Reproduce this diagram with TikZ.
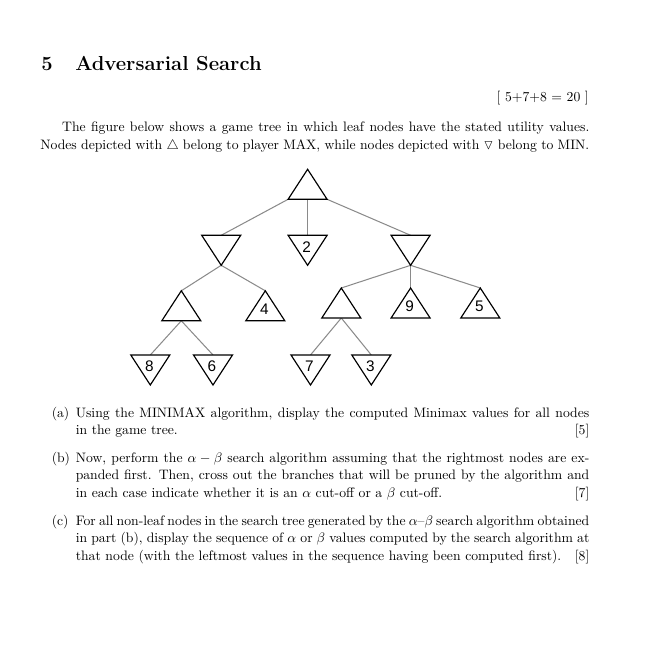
\documentclass[tikz,border=0pt]{standalone}
\usepackage{amssymb}
\usepackage{fontspec}
\newfontfamily\labelfont{Liberation Sans}
\definecolor{edgegray}{RGB}{138,138,138}
\newcommand{\bodyfont}{\fontsize{10}{12.78}\selectfont}
\newcommand{\titlefont}{\fontsize{14.76}{18}\selectfont\bfseries}
\tikzset{
  tri/.style={draw=black, line width=0.85pt, fill=white, line join=miter},
  branch/.style={draw=edgegray, line width=0.75pt},
  lab/.style={font=\labelfont\fontsize{11.2}{13}\selectfont, inner sep=0pt},
  txt/.style={anchor=base west, inner sep=0pt, font=\bodyfont},
  pics/maxtri/.style={code={
    \path[tri] (0,-15) -- (19.5,15) -- (-19.5,15) -- cycle;
    \coordinate (-top) at (0,-15);
    \coordinate (-s) at (0,15);
    \coordinate (-bl) at (-19.5,15);
    \coordinate (-br) at (19.5,15);
    \node[lab] (-lab) at (-1,3.3) {#1};
  }},
  pics/mintri/.style={code={
    \path[tri] (0,15) -- (19.5,-15) -- (-19.5,-15) -- cycle;
    \coordinate (-top) at (0,-15);
    \coordinate (-bot) at (0,15);
    \node[lab] (-lab) at (-1,-3.5) {#1};
  }}
}
\begin{document}
\begin{tikzpicture}[x=0.73pt,y=-0.73pt]
\useasboundingbox (0,0) rectangle (667,651);
\fill[white] (0,0) rectangle (667,651);

% ---------- text ----------
\node[txt, font=\titlefont] (secnum) at (41,71) {5};
\node[txt, font=\titlefont] (sectitle) at (75,71) {Adversarial Search};
\node[anchor=base east, inner sep=0pt, font=\bodyfont] (marks) at (589,102) {[ 5+7+8 = 20 ]};
\node[txt] (intro) at (40,132) {\parbox[t]{400.8pt}{\bodyfont\parindent=16pt The figure below shows a game tree in which leaf nodes have the stated utility values.\linebreak Nodes depicted with $\triangle$ belong to player MAX, while nodes depicted with $\triangledown$ belong to MIN.}};

\node[txt] (la) at (51.5,417) {(a)};
\node[txt] (ta) at (75.5,417) {\parbox[t]{374.9pt}{\bodyfont Using the MINIMAX algorithm, display the computed Minimax values for all nodes\linebreak in the game tree.\hfill[5]}};
\node[txt] (lb) at (51.5,462) {(b)};
\node[txt] (tb) at (75.5,462) {\parbox[t]{374.9pt}{\bodyfont Now, perform the $\alpha-\beta$ search algorithm assuming that the rightmost nodes are ex-\linebreak panded first. Then, cross out the branches that will be pruned by the algorithm and\linebreak in each case indicate whether it is an $\alpha$ cut-off or a $\beta$ cut-off.\hfill[7]}};
\node[txt] (lc) at (51.5,525) {(c)};
\node[txt] (tc) at (75.5,525) {\parbox[t]{374.9pt}{\bodyfont For all non-leaf nodes in the search tree generated by the $\alpha$--$\beta$ search algorithm obtained\linebreak in part (b), display the sequence of $\alpha$ or $\beta$ values computed by the search algorithm at\linebreak that node (with the leftmost values in the sequence having been computed first).\hfill[8]}};

% ---------- tree anchors ----------
\path
  (307.6,184.3) coordinate (root-c)
  (221.2,250.3) coordinate (a-c)
  (307.6,250.3) coordinate (b-c)
  (410.6,250.3) coordinate (c-c)
  (181.3,305.8) coordinate (d-c)
  (265.3,305.8) coordinate (e-c)
  (341.3,303.0) coordinate (f-c)
  (410.6,303.0) coordinate (g-c)
  (480.3,303.0) coordinate (k-c)
  (150.3,370.0) coordinate (h-c)
  (213.0,370.0) coordinate (i-c)
  (310.5,370.0) coordinate (l-c)
  (371.3,370.0) coordinate (m-c);

\begin{scope}[tri/.style={draw=none}, lab/.style={inner sep=0pt, text opacity=0}]
  \pic (root) at (root-c) {maxtri=};
  \pic (a) at (a-c) {mintri=};
  \pic (b) at (b-c) {mintri=};
  \pic (c) at (c-c) {mintri=};
  \pic (d) at (d-c) {maxtri=};
  \pic (e) at (e-c) {maxtri=};
  \pic (f) at (f-c) {maxtri=};
  \pic (g) at (g-c) {maxtri=};
  \pic (k) at (k-c) {maxtri=};
  \pic (h) at (h-c) {mintri=};
  \pic (i) at (i-c) {mintri=};
  \pic (l) at (l-c) {mintri=};
  \pic (m) at (m-c) {mintri=};
\end{scope}

\draw[branch] (root-bl) -- (a-top);
\draw[branch] (root-s) -- (b-top);
\draw[branch] (root-br) -- (c-top);
\draw[branch] (a-bot) -- (d-top);
\draw[branch] (a-bot) -- (e-top);
\draw[branch] (c-bot) -- (f-top);
\draw[branch] (c-bot) -- (g-top);
\draw[branch] (c-bot) -- (k-top);
\draw[branch] (d-s) -- (h-top);
\draw[branch] (d-s) -- (i-top);
\draw[branch] (f-s) -- (l-top);
\draw[branch] (f-s) -- (m-top);

\pic (root) at (root-c) {maxtri=};
\pic (a) at (a-c) {mintri=};
\pic (b) at (b-c) {mintri=2};
\pic (c) at (c-c) {mintri=};
\pic (d) at (d-c) {maxtri=};
\pic (e) at (e-c) {maxtri=4};
\pic (f) at (f-c) {maxtri=};
\pic (g) at (g-c) {maxtri=9};
\pic (k) at (k-c) {maxtri=5};
\pic (h) at (h-c) {mintri=8};
\pic (i) at (i-c) {mintri=6};
\pic (l) at (l-c) {mintri=7};
\pic (m) at (m-c) {mintri=3};
\end{tikzpicture}
\end{document}
